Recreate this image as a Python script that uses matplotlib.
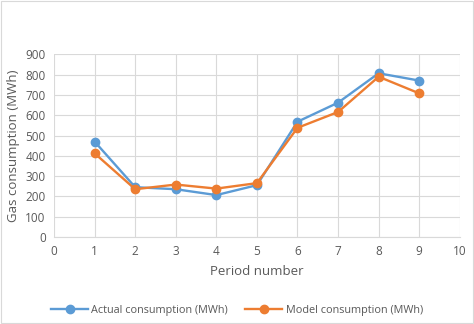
import matplotlib.pyplot as plt

# period numbers and the two series (MWh)
periods = [1, 2, 3, 4, 5, 6, 7, 8, 9]
actual = [470, 245, 235, 206, 255, 568, 662, 807, 771]
model = [412, 235, 258, 238, 265, 538, 616, 790, 708]

plt.rcParams['font.family'] = ['Open Sans', 'DejaVu Sans']

fig = plt.figure(figsize=(4.74, 3.24), dpi=100)
ax = fig.add_axes([0.114, 0.269, 0.856, 0.563])

grey = '#595959'
ax.plot(periods, actual, color='#5B9BD5', lw=1.7, marker='o', ms=6,
        label='Actual consumption (MWh)', zorder=3)
ax.plot(periods, model, color='#ED7D31', lw=1.7, marker='o', ms=6,
        label='Model consumption (MWh)', zorder=4)

ax.set_xlim(0, 10)
ax.set_ylim(0, 900)
ax.set_xticks(range(0, 11))
ax.set_yticks(range(0, 901, 100))
ax.grid(True, color='#D9D9D9', lw=0.8)
ax.set_axisbelow(True)
for s in ['top', 'right', 'left']:
    ax.spines[s].set_visible(False)
ax.spines['bottom'].set_color('#D9D9D9')
ax.tick_params(length=0, colors=grey, labelsize=8.5, pad=6)

ax.set_xlabel('Period number', color=grey, fontsize=9.5, labelpad=5)
ax.set_ylabel('Gas consumption (MWh)', color=grey, fontsize=9.5, labelpad=4)

leg = fig.legend(loc='lower center', bbox_to_anchor=(0.5, -0.005), ncol=2,
                 frameon=False, fontsize=7.8, handlelength=3.4,
                 columnspacing=1.6, handletextpad=0.3)
for t in leg.get_texts():
    t.set_color(grey)

fig.patches.append(plt.Rectangle((0.003, 0.003), 0.994, 0.994,
                                 transform=fig.transFigure, fill=False,
                                 ec='#D9D9D9', lw=0.8))

fig.savefig('out.png', dpi=100)
